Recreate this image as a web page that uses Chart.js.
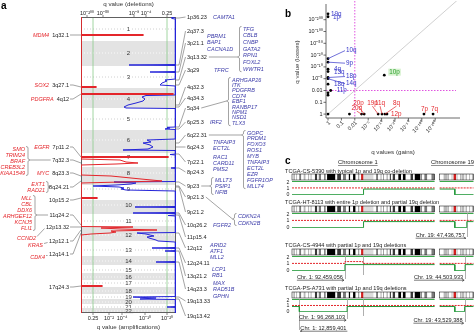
<!DOCTYPE html>
<html><head><meta charset="utf-8">
<script src="https://cdn.jsdelivr.net/npm/chart.js@4.4.1/dist/chart.umd.min.js"></script>
<style>html,body{margin:0;padding:0;background:#fff;overflow:hidden}body{width:474px;height:332px;position:relative}canvas{position:absolute}</style>
</head><body>
<script>
// ================= Panel a data =================
const chromosomes = ['1','2','3','4','5','6','7','8','9','10','11','12','13','14','15','16','17','18','19','20','21','22'];
const chromStart = [0,24,49,71,91,113,136,150,168,183,197,209,224,239,248,256,263,270,277,282,287,291];
const genomeEnd = 296;
const centromerePos = [12,36,60,82,102,123,140,156,172,188,204,218,233,244,253,260,266,274,280,285,290,294];
const ampTickLabels = ['0.25','10⁻²','10⁻⁴','10⁻¹⁰','10⁻²⁰'];
const ampTickScore = [12,28,41,64,86];
const delTickLabels = ['10⁻²⁰⁰','10⁻⁵⁰','10⁻⁸','10⁻⁴','0.25'];
const delTickScore = [89,73,42,30,9];
const ampSigScore = 12, delSigScore = 9;
// [genome position, amplification score]
const ampTrace = [[0,0],[17.5,0],[17.5,62],[18.5,62],[18.5,0],[69.5,0],[69.5,15],[70.5,15],[70.5,0],
 [76.5,0],[76.5,92],[77.5,92],[77.5,0],[139.5,0],[139.5,87],[140.5,87],[140.5,0],
 [142,0],[143,39],[145,45],[146,57],[147,35],[148,0],[158,0],[159,30],[162,60],[164,81],[165,40],[166,0],
 [180.5,0],[180.5,16],[181.5,16],[181.5,0],[209.5,0],[210,52],[211,20],[212,40],[213,76],[214,30],[215,35],[216,29],[217,10],[218,0],
 [268.5,0],[268.5,21],[269.5,21],[269.5,0],[296,0]];
// [genome position, deletion score]
const delTrace = [[0,0.6],[0.5,4],[1.5,4],[2,0.6],[47.5,0.6],[48,47],[48.5,0.6],[54.5,0.6],[55,26],[55.5,0.6],
 [62,0.6],[63,11],[64,9],[66,14],[68,16],[69,0.6],[78,0.6],[78.5,30],[80,34],[82,31],[84,33],[86,40],[88,48],[90,52],[91,50],[91.5,0.6],
 [110,0.6],[110.3,9],[111,6],[112,11],[112.5,0.6],[122,0.6],[123,29],[125,25],[126,33],[128,26],[130,23],[132,28],[133,53],[133.5,0.6],
 [137,0.6],[137.5,6],[138,0.6],[150.5,0.6],[151,5],[151.5,0.6],
 [164.5,0.6],[165,62],[166,40],[167,45],[168,60],[169,83],[170,57],[171,52],[172,55],[173,50],[174,0.6],
 [189.5,0.6],[190,41],[190.5,0.6],[195.5,0.6],[196,43],[196.5,0.6],[198,0.6],[198.5,8],[199,0.6],
 [215.5,0.6],[216,39],[217,30],[219,22],[220,29],[221,27],[223,20],[224,18],[225,0.6],[230.5,0.6],[231,24],[231.5,0.6],
 [233.5,0.6],[234,11],[234.5,0.6],[244.5,0.6],[245,20],[245.5,0.6],[279.5,0.6],[280,43],[281,20],[282,36],[282.5,0.6],
 [289.5,0.6],[290,9],[290.5,0.6],[296,0.6]];
const ampBands = ['1q32.1','3q27.1','4q12','7p11.2','7q32.3','8q23.3','8q24.21','10p15.2','11q24.2','12p13.32','12p12.1','12q14.1','17q24.3'];
const ampPeakPos = [18,70,77,140,146,159,164,181,208,210,213,216,269];
const ampGenes = [['MDM4'],['SOX2'],['PDGFRA'],['EGFR'],['SMO','TRIM24','BRAF','CREB3L2','KIAA1549'],['MYC'],['EXT1','RAD21'],[],
 ['MLL','CBL','DDX6','ARHGEF12','KCNJ5','FLI1'],['CCND2'],['KRAS'],['CDK4'],[]];
const delBands = ['1p36.23','2q37.3','3p21.1','3q13.32','3q29','4q32.3','4q34.3','5q34','6p25.3','6q22.31','6q24.3','7p22.1','8p24.3',
 '9p23','9p21.3','9p21.2','10q26.2','11p15.4','12q12','12q24.11','13q21.2','14q23.3','19q13.33','19q13.42'];
const delPeakPos = [1,48,55,63,68,88,90,110,112,126,130,137,151,165,169,170,196,198,216,231,234,245,280,282];
const delGenes = [['CAMTA1'],[],['PBRM1','BAP1','CACNA1D'],['TFG','CBLB','CNBP','GATA2','RPN1','FOXL2','WWTR1'],['TFRC'],[],[],
 ['ARHGAP26','ITK','PDGFRB','CD74','EBF1','RANBP17','NPM1','NSD1','TLX3'],['IRF2'],
 ['GOPC','PRDM1','FOXO3','ROS1','MYB','TNFAIP3','ECT2L','EZR','FGFR1OP','MLLT4'],['TNFAIP3','ECT2L'],['RAC1','CARD11','PMS2'],[],
 ['MLLT3','PSIP1','NFIB'],['CDKN2A','CDKN2B'],[],['FGFR2'],[],['ARID2','ATF1','MLL2'],[],['LCP1','RB1'],['MAX','RAD51B','GPHN'],[],[]];

// ================= Panel b data =================
const bTickLabels = ['1','0.1','0.01','10⁻⁵','10⁻¹⁰','10⁻²⁰','10⁻⁵⁰','10⁻¹⁰⁰','10⁻²⁰⁰'];
const bTickLog10 = [0,-1,-2,-5,-10,-20,-50,-100,-200];
const armNames = ['19q','1p','10q','9p','4q','13q','18p','14q','18q','11p','','','10p','','','20q','20p','19p','11q','8q','12p','7p','7q'];
const armGainLog10Q = [0,0,0,0,0,0,0,0,0,-0.2,0,0,-12,0,-1.6,-3.5,-4.1,-8.7,-10.3,-12.5,-14,-116,-184];
const armLossLog10Q = [-250,-225,-17,-14,-9,-8,-5.5,-5,-3.6,-2,-1.8,-1.6,-6.5,0,0,0,0,0,0,0,0,0,0];
const armKind = ['loss','loss','loss','loss','loss','loss','loss','loss','loss','loss','','','both','','','gain','gain','gain','gain','gain','gain','gain','gain'];
const sigLog10Q = -2;

// ================= Panel c data =================
const sampleTitles = ['TCGA-CS-5390 with typical 1p and 19q co-deletion','TCGA-HT-8113 with entire 1p deletion and partial 19q deletion',
 'TCGA-CS-4944 with partial 1p and 19q deletions','TCGA-PS-A731 with partial 1p and 19q deletions'];
const chrLength = {1:249.2, 19:59.1};
const centromereMb = {1:124, 19:26.5};
// [start Mb, end Mb, stain]
const chr1Bands = [[0,2.3,0],[2.3,5.4,25],[5.4,7.2,0],[7.2,9.2,25],[9.2,12.7,0],[12.7,16.2,50],[16.2,20.4,0],[20.4,23.9,25],[23.9,28,0],
 [28,30.2,25],[30.2,32.4,0],[32.4,34.6,25],[34.6,40.1,0],[40.1,44.1,75],[44.1,46.8,0],[46.8,50.7,50],[50.7,56.1,0],[56.1,59,50],[59,61.3,0],
 [61.3,75.9,100],[75.9,79,0],[79,85.8,75],[85.8,89.1,0],[89.1,94.3,50],[94.3,99.3,0],[99.3,101.8,100],[101.8,106.7,0],[106.7,111.2,100],
 [111.2,115.9,0],[115.9,117.8,50],[117.8,120.7,0],[120.7,125,'acen'],[125,142.6,'gvar'],[142.6,147,0],[147,150.3,50],[150.3,155,0],
 [155,156.5,50],[156.5,159.1,0],[159.1,160.5,50],[160.5,165.5,0],[165.5,167.2,50],[167.2,170.9,0],[170.9,172.9,75],[172.9,176,0],
 [176,180.3,75],[180.3,185.8,0],[185.8,190.8,100],[190.8,193.8,0],[193.8,198.7,100],[198.7,207.2,0],[207.2,211.5,75],[211.5,214.5,0],
 [214.5,224.1,100],[224.1,224.6,0],[224.6,227,50],[227,231.3,0],[231.3,236.4,50],[236.4,243.7,0],[243.7,249.2,50]];
const chr19Bands = [[0,6.9,0],[6.9,13.9,25],[13.9,14,0],[14,16.3,25],[16.3,20,0],[20,24.4,'gvar'],[24.4,28.6,'acen'],[28.6,32.4,'gvar'],
 [32.4,35.5,0],[35.5,38.3,25],[38.3,38.7,0],[38.7,43.4,25],[43.4,45.2,0],[45.2,48,25],[48,51.4,0],[51.4,53.6,25],[53.6,56.3,0],[56.3,59.1,25]];
// [chromosome, start Mb, end Mb, copy number]
const row1Major = [[1,0,249.2,1],[19,0,59.1,1]];
const row1Minor = [[1,0,125,0],[1,125,249.2,1],[19,0,26.5,1],[19,26.5,59.1,0]];
const row2Major = [[1,0,249.2,1],[19,0,59.1,1]];
const row2Minor = [[1,0,125,0],[1,125,249.2,1],[19,0,26.5,1],[19,26.5,47.44,0],[19,47.44,59.1,1]];
const row3Major = [[1,0,92.46,1],[1,92.46,124,1.3],[1,124,249.2,1],[19,0,59.1,1]];
const row3Minor = [[1,0,92.46,0],[1,92.46,249.2,1],[19,0,26.5,1],[19,26.5,44.5,0],[19,44.5,59.1,1]];
const row4Major = [[1,0,249.2,1],[19,0,59.1,1]];
const row4Minor = [[1,0,12.86,1],[1,12.86,96.27,0],[1,96.27,249.2,1],[19,0,26.5,1],[19,26.5,43.53,0],[19,43.53,59.1,1]];
// [chromosome, breakpoint Mb, label]
const row2Breaks = [[19,47.436757,'Chr. 19: 47,436,757']];
const row3Breaks = [[1,92.459056,'Chr. 1: 92,459,056'],[19,44.503933,'Chr. 19: 44,503,933']];
const row4Breaks = [[1,96.268103,'Chr. 1: 96,268,103'],[19,43.529388,'Chr. 19: 43,529,388'],[1,12.859401,'Chr. 1: 12,859,401']];

// ================= styling / layout =================
const F = "'Liberation Sans', Arial, Helvetica, sans-serif";
const font = (s, st='') => (st ? st + ' ' : '') + s + 'px ' + F;
const RED = '#e4262b', BLUE = '#2424d8', GBLUE = '#3a3aa8', GREEN = '#239a3b';
Chart.defaults.font.family = F;
function mk(l,t,w,h){const c=document.createElement('canvas');c.width=w;c.height=h;c.style.left=l+'px';c.style.top=t+'px';c.style.width=w+'px';c.style.height=h+'px';document.body.appendChild(c);return c;}
function brace(ctx,x,y0,y1,tip,dir){const d=2*dir;tip=Math.max(y0+2.2,Math.min(y1-2.2,tip));ctx.beginPath();ctx.moveTo(x,y0);
 ctx.quadraticCurveTo(x+d,y0,x+d,y0+1.5);ctx.lineTo(x+d,tip-1.2);ctx.lineTo(x+2*d,tip);ctx.lineTo(x+d,tip+1.2);ctx.lineTo(x+d,y1-1.5);
 ctx.quadraticCurveTo(x+d,y1,x,y1);ctx.stroke();return tip;}

const ampLabelY = [35,85,99,147,160,173,187,200,215,227,241,254,287];
const ampLayout = [{m:'i'},{m:'i'},{m:'i'},{m:'i'},{m:'b',gx:25,gy:149,gdy:6},{m:'i'},{m:'b',gx:45,gy:184,gdy:6},{m:'n'},
 {m:'b',gx:32,gy:198,gdy:6},{m:'d',gx:36,gy:238},{m:'d',gx:43,gy:245},{m:'d',gx:45,gy:257},{m:'n'}];
const delLabelY = [17,31,43,57,70,87,98,108,122,135,147,162,172,186,197,212,225,237,248,263,276,289,301,316];
const delLayout = [{m:'i',gx:213},{m:'n'},{m:'s',gx:207,gy:36,gdy:6.5},{m:'b',gx:243,gy:29,gdy:6.7,tip:57},{m:'i',gx:214},{m:'n'},{m:'n'},
 {m:'b',gx:232,gy:80,gdy:5.4,tip:101},{m:'i',gx:210},{m:'b',gx:247,gy:133,gdy:5.9,tip:135},{m:'s',gx:213,gy:142,gdy:6},
 {m:'s',gx:213,gy:157,gdy:6},{m:'n'},{m:'b',gx:215,gy:180,gdy:6,tip:186},{m:'b',gx:238,gy:216,gdy:7,tip:219},{m:'n'},{m:'i',gx:213},
 {m:'n'},{m:'s',gx:210,gy:245,gdy:6},{m:'n'},{m:'s',gx:212,gy:269,gdy:6},{m:'s',gx:213,gy:283,gdy:6.5},{m:'n'},{m:'n'}];

// ================= Panel a chart =================
const panelA = {id:'panelA',
 beforeDatasetsDraw(chart){
  const {ctx,chartArea:a,scales}=chart; const x=scales.x,x2=scales.x2,y=scales.y; ctx.save();
  const cxm=(a.left+a.right)/2;
  chromosomes.forEach((c,i)=>{
   const t=y.getPixelForValue(chromStart[i]), b=y.getPixelForValue(i+1<chromStart.length?chromStart[i+1]:genomeEnd);
   const grey=i%2===1;
   if(grey){ctx.fillStyle='#e3e3e3';ctx.fillRect(a.left,t,a.width,b-t);}
   const cy=y.getPixelForValue(centromerePos[i]);
   ctx.strokeStyle=grey?'#ffffff':'#c4c4c4';ctx.lineWidth=0.8;ctx.setLineDash([1,2]);
   ctx.beginPath();ctx.moveTo(a.left,cy);ctx.lineTo(a.right,cy);ctx.stroke();ctx.setLineDash([]);
   ctx.font=font(6);ctx.textAlign='center';ctx.textBaseline='middle';
   const w=ctx.measureText(c).width+3;ctx.fillStyle=grey?'#e3e3e3':'#fff';ctx.fillRect(cxm-w/2,cy-2.5,w,5);
   ctx.fillStyle='#333';ctx.fillText(c,cxm,cy+0.5);
  });
  ctx.strokeStyle='#8acb8a';ctx.lineWidth=0.8;
  [x.getPixelForValue(ampSigScore),x2.getPixelForValue(delSigScore)].forEach(px=>{ctx.beginPath();ctx.moveTo(px,a.top);ctx.lineTo(px,a.bottom);ctx.stroke();});
  ctx.strokeStyle='#606060';ctx.lineWidth=1;ctx.strokeRect(a.left+0.5,a.top+0.5,a.width-1,a.height-1);
  ctx.restore();
 },
 afterDatasetsDraw(chart){
  const {ctx,chartArea:a,scales}=chart; const x=scales.x,x2=scales.x2,y=scales.y; ctx.save();
  ctx.fillStyle='#222';ctx.strokeStyle='#555';ctx.lineWidth=0.7;ctx.font=font(5.5);ctx.textAlign='center';
  ampTickLabels.forEach((l,i)=>{const px=x.getPixelForValue(ampTickScore[i]);ctx.beginPath();ctx.moveTo(px,a.bottom);ctx.lineTo(px,a.bottom+2);ctx.stroke();
   ctx.textBaseline='top';ctx.fillText(l,px,a.bottom+2.5);});
  delTickLabels.forEach((l,i)=>{const px=x2.getPixelForValue(delTickScore[i]);ctx.beginPath();ctx.moveTo(px,a.top);ctx.lineTo(px,a.top-2);ctx.stroke();
   ctx.textBaseline='alphabetic';ctx.fillText(l,px,a.top-2.5);});
  ctx.font=font(6.2);ctx.textBaseline='middle';ctx.fillStyle='#333';
  ctx.fillText('q value (deletions)',(a.left+a.right)/2,4);
  ctx.fillText('q value (amplifications)',(a.left+a.right)/2,327);
  ctx.font=font(10,'bold');ctx.textAlign='left';ctx.fillStyle='#000';ctx.fillText('a',1,6);
  ampBands.forEach((band,i)=>{
   const ly=ampLabelY[i], ey=y.getPixelForValue(ampPeakPos[i]);
   ctx.font=font(5.5);ctx.textAlign='right';ctx.textBaseline='middle';ctx.fillStyle='#222';ctx.fillText(band,69,ly);
   const bl=69-ctx.measureText(band).width;
   ctx.strokeStyle='#666';ctx.lineWidth=0.6;ctx.beginPath();ctx.moveTo(70,ly);ctx.lineTo(73,ly);ctx.lineTo(a.left,ey);ctx.stroke();
   const L=ampLayout[i], g=ampGenes[i]; ctx.font=font(5.5,'italic');ctx.fillStyle=RED;
   if(L.m==='i'){g.forEach(t=>ctx.fillText(t,bl-3,ly));}
   else if(L.m==='b'){g.forEach((t,k)=>ctx.fillText(t,L.gx,L.gy+k*L.gdy));
    const tip=brace(ctx,L.gx+1,L.gy-2.5,L.gy+(g.length-1)*L.gdy+2.5,ly,1);
    ctx.beginPath();ctx.moveTo(L.gx+5,tip);ctx.lineTo(bl-1.5,ly);ctx.stroke();}
   else if(L.m==='d'){ctx.fillText(g[0],L.gx,L.gy);ctx.beginPath();ctx.moveTo(L.gx+1,L.gy-1.5);ctx.lineTo(bl-1.5,ly+1.5);ctx.stroke();}
  });
  delBands.forEach((band,i)=>{
   const ly=delLabelY[i], ey=y.getPixelForValue(delPeakPos[i]);
   ctx.font=font(5.5);ctx.textAlign='left';ctx.textBaseline='middle';ctx.fillStyle='#222';ctx.fillText(band,187,ly);
   const br=187+ctx.measureText(band).width;
   ctx.strokeStyle='#666';ctx.lineWidth=0.6;ctx.beginPath();ctx.moveTo(a.right,ey);ctx.lineTo(a.right+3,ey);ctx.lineTo(185.5,ly);ctx.stroke();
   const L=delLayout[i], g=delGenes[i]; ctx.font=font(5.5,'italic');ctx.fillStyle=GBLUE;
   if(L.m==='i'){g.forEach(t=>ctx.fillText(t,L.gx,ly));}
   else if(L.m==='s'){g.forEach((t,k)=>ctx.fillText(t,L.gx,L.gy+k*L.gdy));}
   else if(L.m==='b'){g.forEach((t,k)=>ctx.fillText(t,L.gx,L.gy+k*L.gdy));
    const tip=brace(ctx,L.gx-1.5,L.gy-2.5,L.gy+(g.length-1)*L.gdy+2.5,L.tip,-1);
    ctx.beginPath();ctx.moveTo(br+2,ly);ctx.lineTo(L.gx-5.5,tip);ctx.stroke();}
  });
  ctx.restore();
 }};
new Chart(mk(0,0,285,332),{type:'scatter',data:{datasets:[
 {data:ampTrace.map(p=>({x:p[1],y:p[0]})),xAxisID:'x',yAxisID:'y',showLine:true,borderColor:RED,borderWidth:1,pointRadius:0,tension:0},
 {data:delTrace.map(p=>({x:p[1],y:p[0]})),xAxisID:'x2',yAxisID:'y',showLine:true,borderColor:BLUE,borderWidth:1,pointRadius:0,tension:0}]},
 options:{responsive:false,animation:false,events:[],layout:{padding:{left:81,right:109,top:17,bottom:19}},
  scales:{x:{type:'linear',min:0,max:95,display:false},x2:{type:'linear',position:'top',min:0,max:95,reverse:true,display:false},
   y:{type:'linear',min:0,max:genomeEnd,reverse:true,display:false}},
  plugins:{legend:{display:false},tooltip:{enabled:false}}},plugins:[panelA]});

// ================= Panel b chart =================
function bIdx(v){const t=bTickLog10;for(let i=0;i<t.length-1;i++){if(v<=t[i]&&v>=t[i+1])return i+(t[i]-v)/(t[i]-t[i+1]);}
 const n=t.length;if(v<t[n-1])return n-1+(t[n-1]-v)/(t[n-2]-t[n-1]);return 0;}
const armLabelOffset = [[3,0],[5,1],[18,-8],[18,1],[6,0],[6,1],[18,-1],[18,5],[6,0],[6,0],null,null,[5,-3],null,null,
 [-10,-6],[-11,-11],[-11,-11],[-7,-11],[8,-11],[4,0],[-3,-5],[-2,-5]];
const armLeader = [0,0,1,1,0,0,1,1,0,0,0,0,0,0,0,1,1,1,1,1,0,0,0];
const panelB = {id:'panelB',
 beforeDatasetsDraw(chart){
  const {ctx,chartArea:a,scales:{x,y}}=chart;ctx.save();
  ctx.beginPath();ctx.rect(a.left,a.top-3,a.width,a.height+3);ctx.clip();
  ctx.strokeStyle='#c4c4c4';ctx.lineWidth=0.8;ctx.beginPath();
  ctx.moveTo(x.getPixelForValue(-0.5),y.getPixelForValue(-0.5));ctx.lineTo(x.getPixelForValue(10),y.getPixelForValue(10));ctx.stroke();
  ctx.strokeStyle='#e055e0';ctx.setLineDash([1.5,1.5]);ctx.lineWidth=1;
  const px=x.getPixelForValue(bIdx(sigLog10Q)), py=y.getPixelForValue(bIdx(sigLog10Q));
  ctx.beginPath();ctx.moveTo(px,a.top-3);ctx.lineTo(px,a.bottom);ctx.stroke();
  ctx.beginPath();ctx.moveTo(a.left,py);ctx.lineTo(a.right-4,py);ctx.stroke();
  ctx.restore();
 },
 afterDatasetsDraw(chart){
  const {ctx,chartArea:a,scales:{x,y}}=chart;ctx.save();
  ctx.strokeStyle='#444';ctx.lineWidth=0.8;ctx.beginPath();ctx.moveTo(a.left,a.top);ctx.lineTo(a.left,a.bottom);ctx.lineTo(a.right,a.bottom);ctx.stroke();
  ctx.font=font(5.5);ctx.fillStyle='#222';
  bTickLabels.forEach((l,i)=>{
   const py=y.getPixelForValue(i);ctx.beginPath();ctx.moveTo(a.left-2.5,py);ctx.lineTo(a.left,py);ctx.stroke();
   ctx.textAlign='right';ctx.textBaseline='middle';ctx.fillText(l,a.left-3.5,py);
   const px=x.getPixelForValue(i);ctx.beginPath();ctx.moveTo(px,a.bottom);ctx.lineTo(px,a.bottom+2.5);ctx.stroke();
   ctx.save();ctx.translate(px+1.5,a.bottom+4);ctx.rotate(-Math.PI/4);ctx.textAlign='right';ctx.textBaseline='middle';ctx.fillText(l,0,0);ctx.restore();
  });
  ctx.font=font(6.2);ctx.textAlign='center';ctx.textBaseline='middle';ctx.fillStyle='#333';
  ctx.fillText('q values (gains)',(a.left+a.right)/2,152);
  ctx.save();ctx.translate(14,62);ctx.rotate(-Math.PI/2);ctx.fillText('q value (losses)',0,0);ctx.restore();
  ctx.font=font(10,'bold');ctx.textAlign='left';ctx.fillStyle='#000';ctx.fillText('b',2,14);
  ctx.font=font(6.3);
  armNames.forEach((n,i)=>{
   if(!n)return;const o=armLabelOffset[i];
   const px=x.getPixelForValue(bIdx(armGainLog10Q[i])), py=y.getPixelForValue(bIdx(armLossLog10Q[i]));
   const col=armKind[i]==='loss'?'#3434c8':armKind[i]==='gain'?RED:'#2ea02e';
   const tx=px+o[0], ty=py+o[1]; const w=ctx.measureText(n).width;
   if(armKind[i]==='both'){ctx.fillStyle='#d6f2cf';ctx.fillRect(tx-1,ty-3.5,w+2,7);}
   ctx.fillStyle=col;ctx.textAlign='left';ctx.textBaseline='middle';ctx.fillText(n,tx,ty);
   if(armLeader[i]){ctx.strokeStyle=col;ctx.lineWidth=0.7;ctx.beginPath();ctx.moveTo(px,py);
    if(armKind[i]==='loss')ctx.lineTo(tx-1,ty);else ctx.lineTo(tx+w/2,ty+3);ctx.stroke();}
  });
  ctx.restore();
 }};
new Chart(mk(283,0,191,156),{type:'scatter',data:{datasets:[
 {data:armGainLog10Q.map((g,i)=>({x:bIdx(g),y:bIdx(armLossLog10Q[i])})),pointRadius:1.4,pointBackgroundColor:'#000',pointBorderWidth:0,showLine:false}]},
 options:{responsive:false,animation:false,events:[],layout:{padding:{left:43,right:14,top:2,bottom:38}},
  scales:{x:{type:'linear',min:-0.15,max:9.85,display:false},y:{type:'linear',min:-0.33,max:9.33,display:false}},
  plugins:{legend:{display:false},tooltip:{enabled:false}}},plugins:[panelB]});

// ================= Panel c charts =================
const chr19Offset = 258;
const cx = (chr,mb) => chr===1 ? mb : chr19Offset + mb;
const rowMajor=[row1Major,row2Major,row3Major,row4Major], rowMinor=[row1Minor,row2Minor,row3Minor,row4Minor], rowBreaks=[[],row2Breaks,row3Breaks,row4Breaks];
const rowLayout = [{T:155,H:42,title:16,ideo:19,cnTop:27,cnBot:40,ann:[],cen:false},
 {T:197,H:42,title:5,ideo:9,cnTop:17,cnBot:31,ann:[38],cen:false},
 {T:240,H:42,title:5,ideo:9,cnTop:17,cnBot:31,ann:[37,37],cen:true},
 {T:283,H:49,title:5,ideo:9,cnTop:17,cnBot:29,ann:[34,37,45],cen:true}];
const stainColor = s => s==='acen'?'#d42020':s==='gvar'?'#dcdcdc':s===0?'#ffffff':s===25?'#b8b8b8':s===50?'#7a7a7a':s===75?'#3a3a3a':'#000000';
function segPts(segs,chr,off){const p=[];segs.filter(s=>s[0]===chr).forEach(s=>{p.push({x:cx(chr,s[1]),y:s[3]+off});p.push({x:cx(chr,s[2]),y:s[3]+off});});return p;}
rowLayout.forEach((R,r)=>{
 const plug={id:'row'+r,
  beforeDatasetsDraw(chart){
   const {ctx,chartArea:a,scales:{x,y}}=chart;ctx.save();
   if(r===0){ctx.font=font(10,'bold');ctx.fillStyle='#000';ctx.textAlign='left';ctx.textBaseline='middle';ctx.fillText('c',1,6);
    ctx.font=font(5.8);ctx.fillStyle='#222';
    [['Chromosome 1',54],['Chromosome 19',147]].forEach(([t,tx])=>{ctx.fillText(t,tx,7);const w=ctx.measureText(t).width;
     ctx.strokeStyle='#222';ctx.lineWidth=0.5;ctx.beginPath();ctx.moveTo(tx,10.5);ctx.lineTo(tx+w,10.5);ctx.stroke();});}
   ctx.font=font(5.6);ctx.fillStyle='#222';ctx.textAlign='left';ctx.textBaseline='middle';ctx.fillText(sampleTitles[r],1,R.title);
   [[1,chr1Bands],[19,chr19Bands]].forEach(([chr,bands])=>{
    bands.forEach(b=>{const x0=x.getPixelForValue(cx(chr,b[0])),x1=x.getPixelForValue(cx(chr,b[1]));ctx.fillStyle=stainColor(b[2]);ctx.fillRect(x0,R.ideo,x1-x0,6);});
    const xs=x.getPixelForValue(cx(chr,0)), xe=x.getPixelForValue(cx(chr,chrLength[chr]));
    ctx.strokeStyle='#000';ctx.lineWidth=0.5;ctx.strokeRect(xs,R.ideo,xe-xs,6);
    ctx.strokeStyle='#3aa84a';ctx.lineWidth=1.2;ctx.beginPath();ctx.moveTo(xs,R.ideo+7.5);ctx.lineTo(xe,R.ideo+7.5);ctx.stroke();
   });
   ctx.font=font(5.2);ctx.fillStyle='#222';ctx.textAlign='right';
   [2,1,0].forEach(v=>ctx.fillText(String(v),a.left-2.5,y.getPixelForValue(v)));
   ctx.strokeStyle='#9a9a9a';ctx.lineWidth=0.8;
   const vlines=rowBreaks[r].map((b,k)=>[cx(b[0],b[1]),R.ann[k]+2]);
   if(R.cen)vlines.push([cx(1,centromereMb[1]),R.cnBot+4]);
   vlines.forEach(([v,yb])=>{const px=Math.round(x.getPixelForValue(v))+0.5;ctx.beginPath();ctx.moveTo(px,R.cnTop-1);ctx.lineTo(px,yb);ctx.stroke();});
   ctx.restore();
  },
  afterDatasetsDraw(chart){
   const {ctx,scales:{x}}=chart;ctx.save();ctx.font=font(5.6);ctx.fillStyle='#222';ctx.textBaseline='middle';
   rowBreaks[r].forEach((b,k)=>{
    const px=x.getPixelForValue(cx(b[0],b[1])), ty=R.ann[k]; const w=ctx.measureText(b[2]).width;
    const leftAlign = px - w < 0; const tx0 = leftAlign ? px+1 : px-w-2;
    ctx.textAlign='left';ctx.fillText(b[2],tx0,ty);
    ctx.strokeStyle='#222';ctx.lineWidth=0.6;ctx.beginPath();ctx.moveTo(tx0,ty+3.2);ctx.lineTo(tx0+w+1,ty+3.2);ctx.stroke();
    const ax = leftAlign ? tx0 : tx0+w+1, d = leftAlign ? 1 : -1;
    ctx.beginPath();ctx.moveTo(ax,ty+3.2);ctx.lineTo(ax+2*d,ty+2);ctx.moveTo(ax,ty+3.2);ctx.lineTo(ax+2*d,ty+4.4);ctx.stroke();
   });
   ctx.restore();
  }};
 const ds=[];
 [1,19].forEach(chr=>{
  ds.push({data:segPts(rowMinor[r],chr,-0.1),showLine:true,borderColor:GREEN,borderWidth:1,pointRadius:0,tension:0});
  ds.push({data:segPts(rowMajor[r],chr,0.1),showLine:true,borderColor:RED,borderWidth:1,borderDash:[2,1],pointRadius:0,tension:0});
 });
 new Chart(mk(284,R.T,190,R.H),{type:'scatter',data:{datasets:ds},
  options:{responsive:false,animation:false,events:[],layout:{padding:{left:8,right:0,top:R.cnTop,bottom:R.H-R.cnBot}},
   scales:{x:{type:'linear',min:0,max:318,display:false},y:{type:'linear',min:-0.15,max:2.15,display:false}},
   plugins:{legend:{display:false},tooltip:{enabled:false}}},plugins:[plug]});
});
</script>
</body></html>
